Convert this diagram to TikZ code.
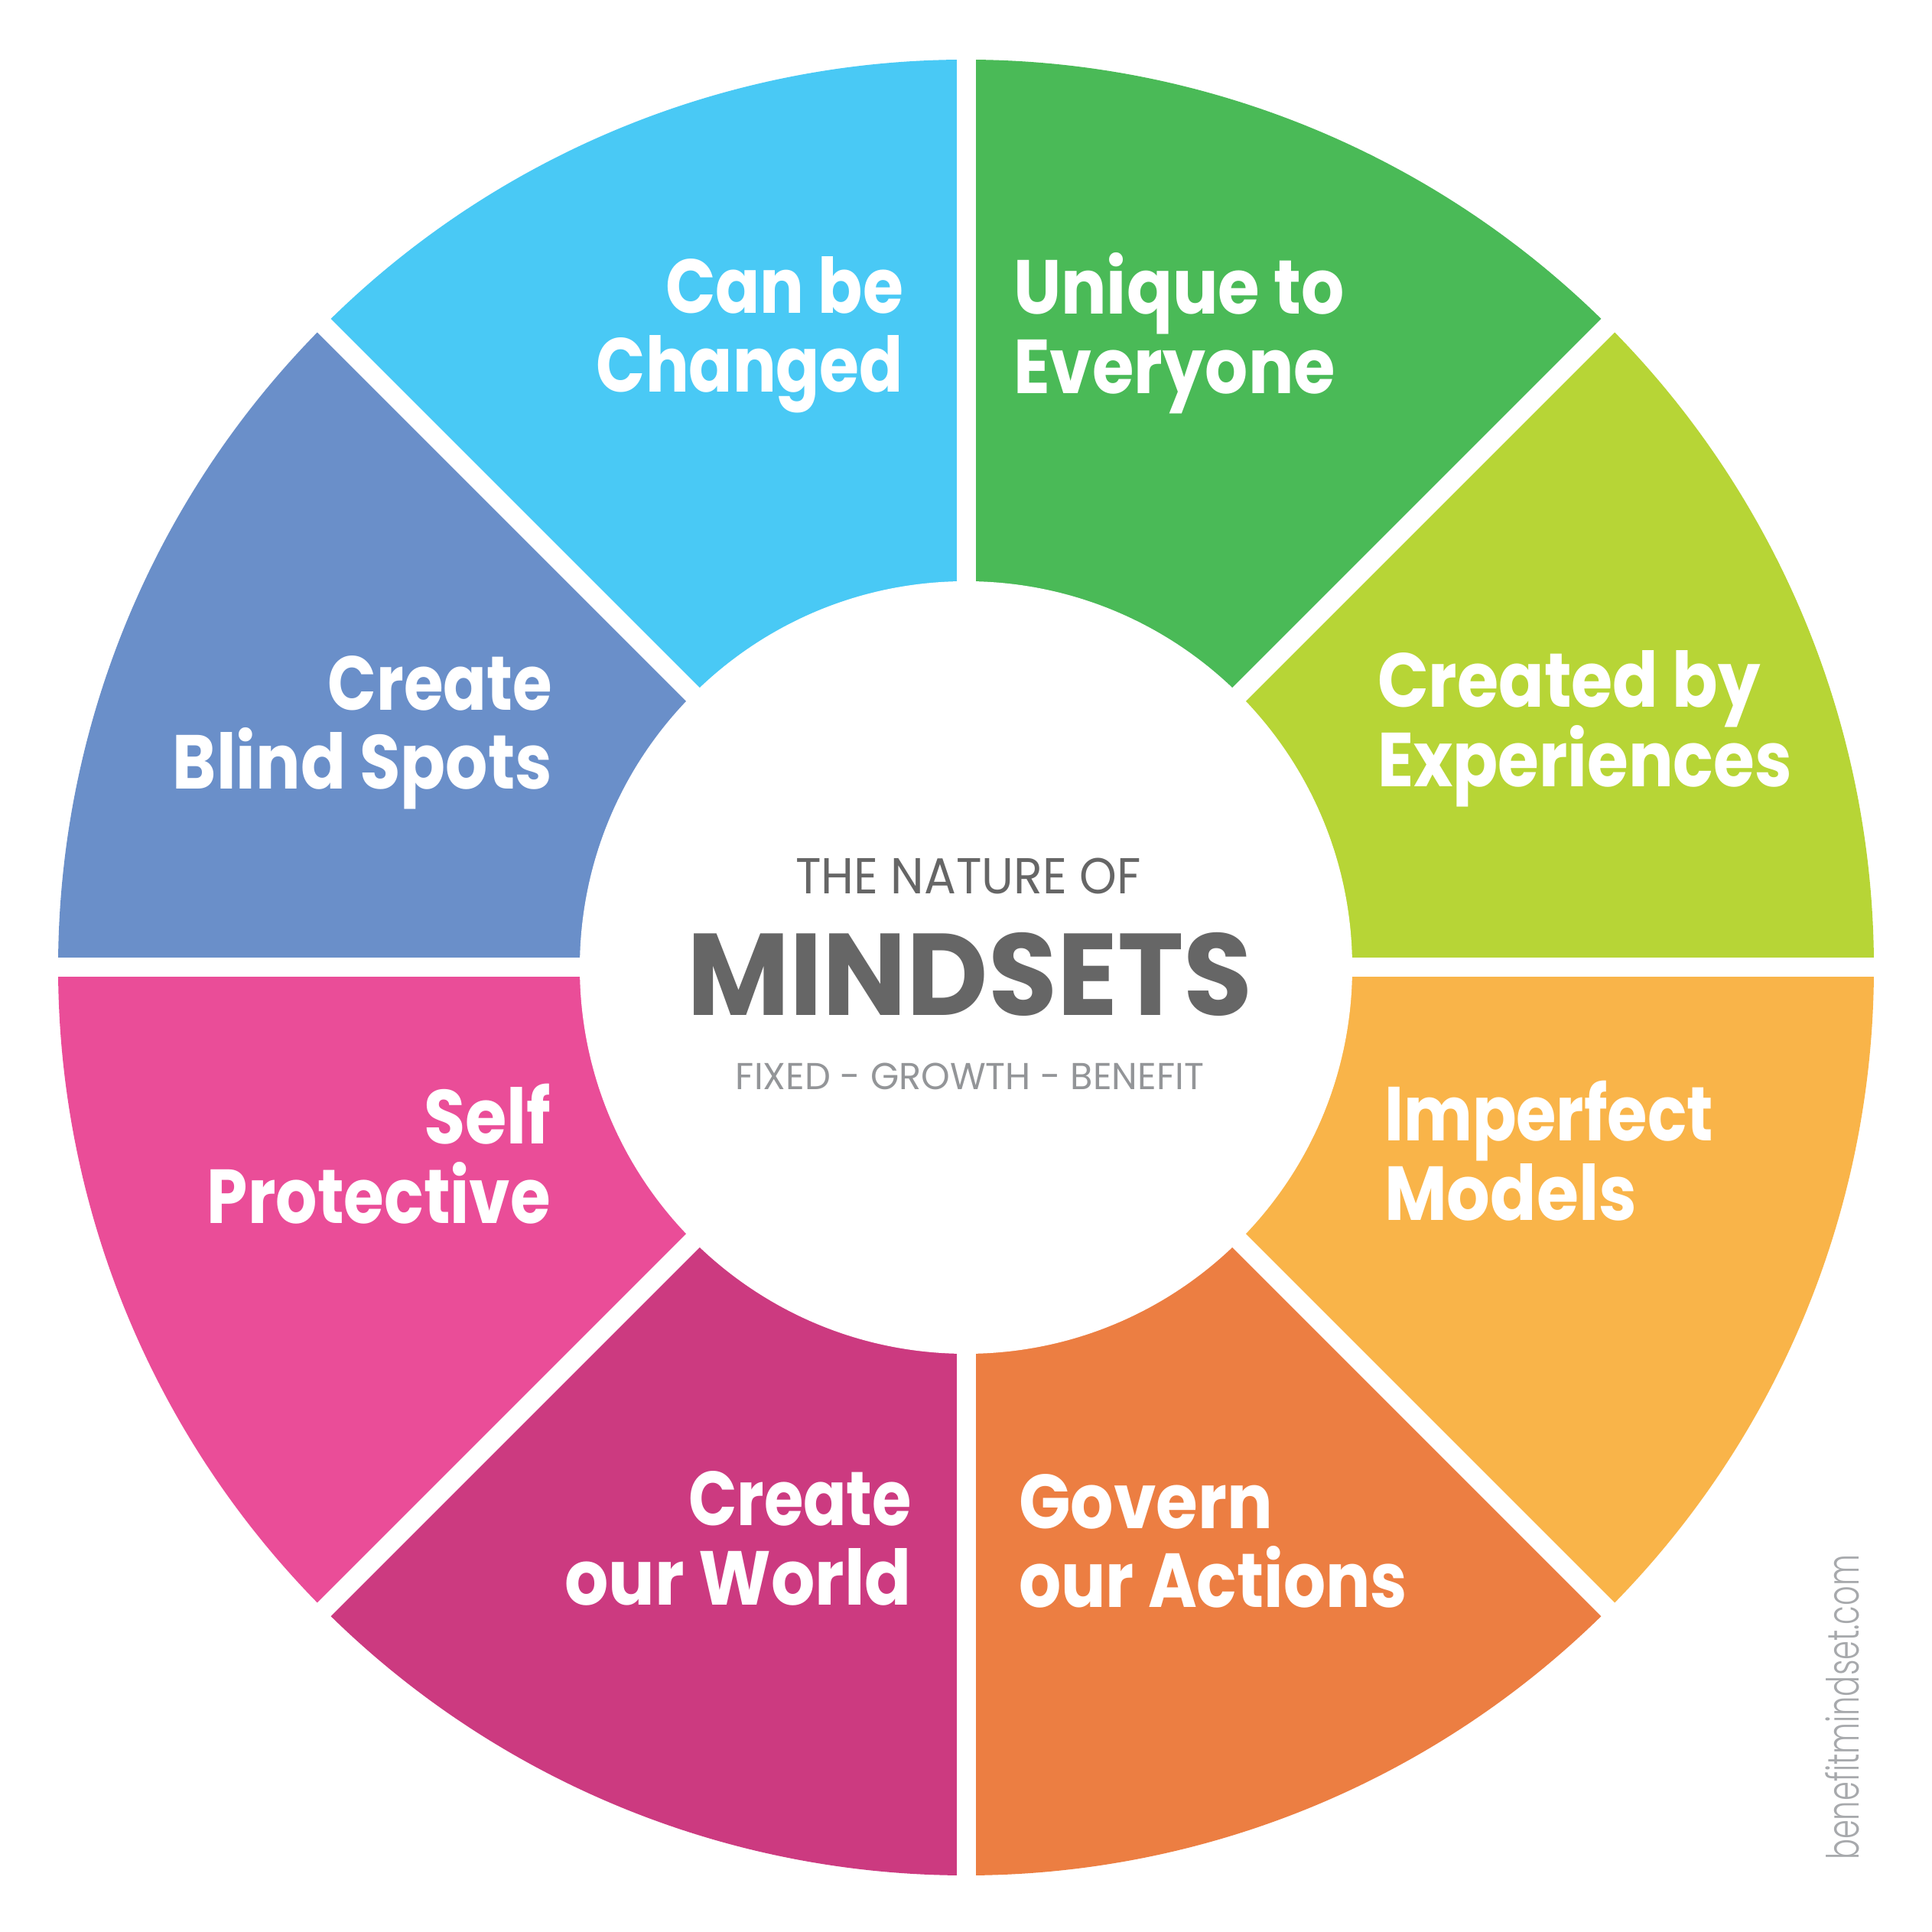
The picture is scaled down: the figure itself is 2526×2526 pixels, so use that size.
\documentclass[tikz,border=0pt]{standalone}
\usepackage{fontspec}
\setmainfont{Poppins}
\newfontfamily\lightf{Poppins Light}
\definecolor{cLBlue}{HTML}{49C9F5}
\definecolor{cGreen}{HTML}{4ABA57}
\definecolor{cLime}{HTML}{B7D536}
\definecolor{cYell}{HTML}{F9B449}
\definecolor{cOrange}{HTML}{EC7E42}
\definecolor{cMag}{HTML}{CC3A80}
\definecolor{cPink}{HTML}{EA4D98}
\definecolor{cBlue}{HTML}{6A8FC9}
\definecolor{cDark}{HTML}{666666}
\definecolor{cGrey}{HTML}{939598}
\definecolor{cWm}{HTML}{A7A9AC}
\newcommand{\lw}[2]{\resizebox{#1pt}{\height}{\fontsize{100}{100}\selectfont\bfseries #2}}
\tikzset{
  lab/.style={inner sep=0pt, outer sep=0pt, text=white},
  gapline/.style={white, line width=25pt},
}
\begin{document}
\begin{tikzpicture}[x=1pt,y=1pt]
\useasboundingbox (0,0) rectangle (2526,2526);
\fill[white] (0,0) rectangle (2526,2526);
\coordinate (C) at (1263,1261);
% sectors
\fill[cLime]   (C) -- ++(0:1187)   arc[start angle=0,   end angle=45,  radius=1187] -- cycle;
\fill[cGreen]  (C) -- ++(45:1187)  arc[start angle=45,  end angle=90,  radius=1187] -- cycle;
\fill[cLBlue]  (C) -- ++(90:1187)  arc[start angle=90,  end angle=135, radius=1187] -- cycle;
\fill[cBlue]   (C) -- ++(135:1187) arc[start angle=135, end angle=180, radius=1187] -- cycle;
\fill[cPink]   (C) -- ++(180:1187) arc[start angle=180, end angle=225, radius=1187] -- cycle;
\fill[cMag]    (C) -- ++(225:1187) arc[start angle=225, end angle=270, radius=1187] -- cycle;
\fill[cOrange] (C) -- ++(270:1187) arc[start angle=270, end angle=315, radius=1187] -- cycle;
\fill[cYell]   (C) -- ++(315:1187) arc[start angle=315, end angle=360, radius=1187] -- cycle;
% gaps
\foreach \a in {0,45,90,135}{
  \draw[gapline] (C) ++(\a:1250) -- ++(\a+180:2500);
}
\fill[white] (C) circle[radius=505];
% sector labels
\node[lab, anchor=base east] (a1) at (1181,2116) {\lw{311}{Can be}};
\node[lab, anchor=base east] (a2) at (1181,2013) {\lw{401}{Changed}};
\node[lab, anchor=base west] (b1) at (1325,2115) {\lw{433}{Unique to}};
\node[lab, anchor=base west] (b2) at (1325,2011) {\lw{421}{Everyone}};
\node[lab, anchor=base west] (c1) at (1801,1601) {\lw{501}{Created by}};
\node[lab, anchor=base west] (c2) at (1801,1497) {\lw{542}{Experiences}};
\node[lab, anchor=base east] (d1) at (722,1597) {\lw{293}{Create}};
\node[lab, anchor=base east] (d2) at (722,1494) {\lw{496}{Blind Spots}};
\node[lab, anchor=base east] (e1) at (720,1030) {\lw{166}{Self}};
\node[lab, anchor=base east] (e2) at (720,926) {\lw{449}{Protective}};
\node[lab, anchor=base west] (f1) at (1810,1034) {\lw{430}{Imperfect}};
\node[lab, anchor=base west] (f2) at (1810,930) {\lw{330}{Models}};
\node[lab, anchor=base east] (g1) at (1192,531) {\lw{292}{Create}};
\node[lab, anchor=base east] (g2) at (1192,427) {\lw{454}{our World}};
\node[lab, anchor=base west] (h1) at (1332,527) {\lw{332}{Govern}};
\node[lab, anchor=base west] (h2) at (1332,424) {\lw{508}{our Actions}};
% centre
\node[lab, text=cDark, anchor=base] (t1) at (1266,1357) {\resizebox{452pt}{\height}{\fontsize{66}{66}\selectfont THE NATURE OF}};
\node[lab, text=cDark, anchor=base] (t2) at (1268,1198) {\resizebox{740pt}{\height}{\fontsize{152}{152}\selectfont\bfseries MINDSETS}};
\node[lab, text=cGrey, anchor=base] (t3) at (1268,1101) {\resizebox{612pt}{\height}{\fontsize{49}{49}\selectfont FIXED - GROWTH - BENEFIT}};
% watermark
\node[lab, text=cWm, anchor=base west, rotate=90] (wm) at (2430,94) {\resizebox{399pt}{\height}{\fontsize{58}{58}\selectfont\lightf benefitmindset.com}};
\end{tikzpicture}
\end{document}
